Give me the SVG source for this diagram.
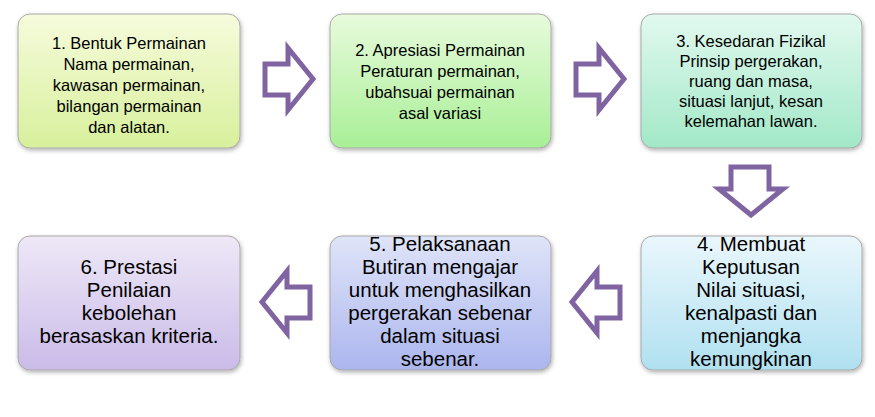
<svg xmlns="http://www.w3.org/2000/svg" width="875" height="417" viewBox="0 0 875 417">
<defs>
<linearGradient id="g1" x1="0" y1="0" x2="0" y2="1"><stop offset="0" stop-color="#f6fbdc"/><stop offset="1" stop-color="#d8f09c"/></linearGradient>
<linearGradient id="g2" x1="0" y1="0" x2="0" y2="1"><stop offset="0" stop-color="#e8fbdc"/><stop offset="1" stop-color="#a8ef96"/></linearGradient>
<linearGradient id="g3" x1="0" y1="0" x2="0" y2="1"><stop offset="0" stop-color="#e2f9ef"/><stop offset="1" stop-color="#a2e8c8"/></linearGradient>
<linearGradient id="g4" x1="0" y1="0" x2="0" y2="1"><stop offset="0" stop-color="#eaf7fc"/><stop offset="1" stop-color="#b0e0f0"/></linearGradient>
<linearGradient id="g5" x1="0" y1="0" x2="0" y2="1"><stop offset="0" stop-color="#dfe4f8"/><stop offset="1" stop-color="#acb6ee"/></linearGradient>
<linearGradient id="g6" x1="0" y1="0" x2="0" y2="1"><stop offset="0" stop-color="#eee8f7"/><stop offset="1" stop-color="#cabbe8"/></linearGradient>
<filter id="sh" x="-10%" y="-10%" width="120%" height="130%"><feDropShadow dx="1" dy="2" stdDeviation="2" flood-color="#000" flood-opacity="0.3"/></filter>
</defs>
<style>
.b{stroke:#a8a8a8;stroke-width:1;filter:url(#sh)}
.t{font-family:"Liberation Sans",Arial,sans-serif;fill:#000;text-anchor:middle}
.s{font-size:16.5px}
.l{font-size:20.5px}
.a{fill:#fff;stroke:#8064a2;stroke-width:5;stroke-linejoin:miter}
</style>
<rect width="875" height="417" fill="#fff"/>
<g id="n1"><rect class="b" x="18" y="14" width="222" height="134" rx="12" fill="url(#g1)"/>
<text class="t s" x="129"><tspan x="129" y="49">1. Bentuk Permainan</tspan><tspan x="129" y="70">Nama permainan,</tspan><tspan x="129" y="91">kawasan permainan,</tspan><tspan x="129" y="112">bilangan permainan</tspan><tspan x="129" y="133">dan alatan.</tspan></text></g>
<g id="n2"><rect class="b" x="330" y="14" width="221" height="134" rx="12" fill="url(#g2)"/>
<text class="t s"><tspan x="440" y="56">2. Apresiasi Permainan</tspan><tspan x="440" y="77">Peraturan permainan,</tspan><tspan x="440" y="98">ubahsuai permainan</tspan><tspan x="440" y="119">asal variasi</tspan></text></g>
<g id="n3"><rect class="b" x="641" y="14" width="221" height="134" rx="12" fill="url(#g3)"/>
<text class="t s"><tspan x="751" y="47">3. Kesedaran Fizikal</tspan><tspan x="751" y="67">Prinsip pergerakan,</tspan><tspan x="751" y="87">ruang dan masa,</tspan><tspan x="751" y="107">situasi lanjut, kesan</tspan><tspan x="751" y="127">kelemahan lawan.</tspan></text></g>
<g id="n4"><rect class="b" x="641" y="236" width="221" height="134" rx="12" fill="url(#g4)"/>
<text class="t l"><tspan x="751" y="251">4. Membuat</tspan><tspan x="751" y="274">Keputusan</tspan><tspan x="751" y="297">Nilai situasi,</tspan><tspan x="751" y="320">kenalpasti dan</tspan><tspan x="751" y="343">menjangka</tspan><tspan x="751" y="366">kemungkinan</tspan></text></g>
<g id="n5"><rect class="b" x="330" y="236" width="221" height="134" rx="12" fill="url(#g5)"/>
<text class="t l"><tspan x="440" y="251">5. Pelaksanaan</tspan><tspan x="440" y="274">Butiran mengajar</tspan><tspan x="440" y="297">untuk menghasilkan</tspan><tspan x="440" y="320">pergerakan sebenar</tspan><tspan x="440" y="343">dalam situasi</tspan><tspan x="440" y="366">sebenar.</tspan></text></g>
<g id="n6"><rect class="b" x="18" y="236" width="222" height="134" rx="12" fill="url(#g6)"/>
<text class="t l"><tspan x="129" y="274">6. Prestasi</tspan><tspan x="129" y="297">Penilaian</tspan><tspan x="129" y="320">kebolehan</tspan><tspan x="129" y="343">berasaskan kriteria.</tspan></text></g>
<g id="connectors">
<path class="a" d="M265,64 H288 V48 L313,79 L288,110 V95 H265 Z"/>
<path class="a" d="M576,64 H599 V48 L624,79 L599,110 V95 H576 Z"/>
<path class="a" d="M731,167 V189 H719 L751,215 L783,189 H769 V167 Z"/>
<path class="a" d="M620,287 H597 V271 L572,302 L597,333 V318 H620 Z"/>
<path class="a" d="M310,287 H287 V271 L262,302 L287,333 V318 H310 Z"/>
</g>
</svg>
